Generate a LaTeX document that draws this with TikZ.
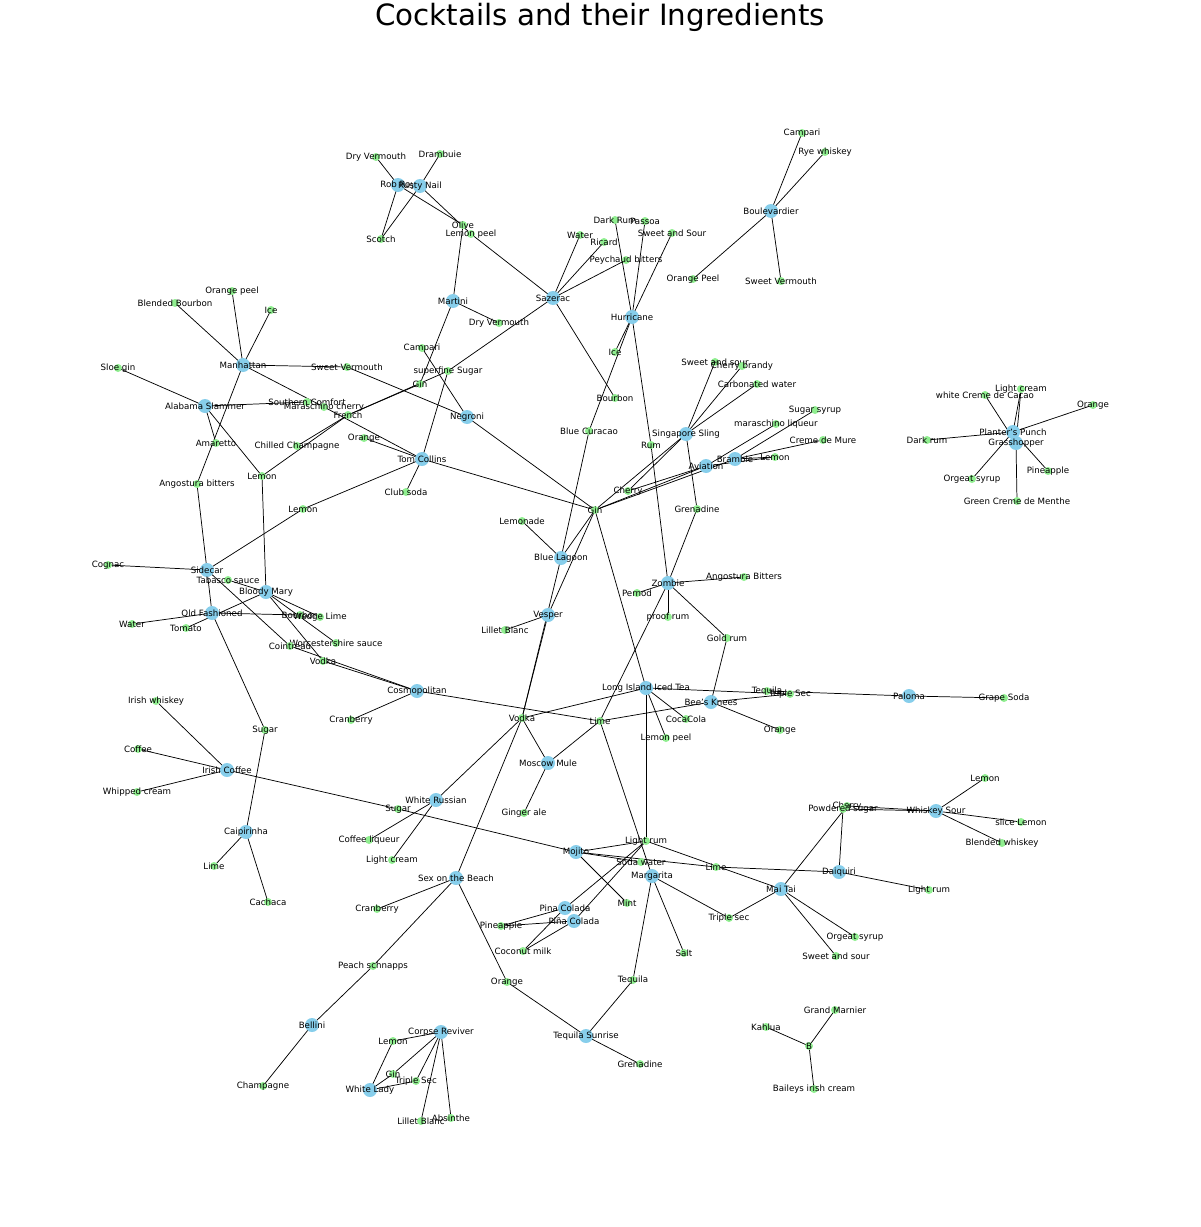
\documentclass[tikz,border=0pt]{standalone}
\usepackage{fontspec}
\setmainfont{DejaVu Sans}
\usetikzlibrary{backgrounds}
\definecolor{ckc}{HTML}{87CEEB}
\definecolor{igc}{HTML}{90EE90}
\tikzset{
 cockn/.style={circle,fill=ckc,minimum size=10.5pt,inner sep=0pt},
 ingrn/.style={circle,fill=igc,minimum size=6pt,inner sep=0pt},
 lbl/.style={font=\fontsize{6.5}{7}\selectfont,inner sep=0pt,text=black},
 edge/.style={draw=black,line width=0.55pt}
}
\newcommand{\cock}[4]{\node[cockn,label={[lbl]center:#4}] (#1) at (#2,#3) {};}
\newcommand{\ingr}[4]{\node[ingrn,label={[lbl]center:#4}] (#1) at (#2,#3) {};}
\begin{document}
\begin{tikzpicture}[x=0.75pt,y=-0.75pt]
\useasboundingbox (0,0) rectangle (1200,1227);
\node[font=\fontsize{22}{26}\selectfont] (title) at (600,17) {Cocktails and their Ingredients};
% cocktails
\cock{robroy}{398}{185}{Rob Roy}
\cock{rusty}{420}{186}{Rusty Nail}
\cock{martini}{453}{301}{Martini}
\cock{sazerac}{553}{298}{Sazerac}
\cock{hurricane}{632}{317}{Hurricane}
\cock{boulev}{771}{211}{Boulevardier}
\cock{manhattan}{243}{365}{Manhattan}
\cock{alabama}{205}{406}{Alabama Slammer}
\cock{negroni}{467}{417}{Negroni}
\cock{tomc}{422}{459}{Tom Collins}
\ingr{french}{348}{415}{French}
\cock{sing}{686}{434}{Singapore Sling}
\cock{aviation}{706}{466}{Aviation}
\cock{bramble}{735}{459}{Bramble}
\cock{planters}{1013}{432}{Planter's Punch}
\cock{grass}{1016}{443}{Grasshopper}
\cock{bluel}{561}{558}{Blue Lagoon}
\cock{zombie}{668}{583}{Zombie}
\cock{vesper}{548}{615}{Vesper}
\cock{sidecar}{207}{570}{Sidecar}
\cock{bloody}{266}{592}{Bloody Mary}
\cock{oldf}{212}{613}{Old Fashioned}
\cock{cosmo}{417}{691}{Cosmopolitan}
\cock{longi}{646}{688}{Long Island Iced Tea}
\cock{bees}{711}{702}{Bee's Knees}
\cock{paloma}{909}{696}{Paloma}
\cock{moscow}{548}{763}{Moscow Mule}
\cock{irish}{227}{770}{Irish Coffee}
\cock{whiter}{436}{800}{White Russian}
\cock{caip}{246}{832}{Caipirinha}
\cock{mojito}{576}{852}{Mojito}
\cock{marg}{652}{876}{Margarita}
\cock{maitai}{781}{889}{Mai Tai}
\cock{daiq}{839}{872}{Daiquiri}
\cock{whiskeys}{936}{811}{Whiskey Sour}
\cock{sexb}{456}{878}{Sex on the Beach}
\cock{pina}{565}{908}{Pina Colada}
\cock{pinb}{574}{921}{Piña Colada}
\cock{bellini}{312}{1025}{Bellini}
\cock{corpse}{441}{1032}{Corpse Reviver}
\cock{whitel}{370}{1090}{White Lady}
\cock{tsun}{586}{1036}{Tequila Sunrise}
% ingredients
\ingr{dryv1}{376}{157}{Dry Vermouth}
\ingr{drambuie}{440}{154}{Drambuie}
\ingr{scotch}{381}{239}{Scotch}
\ingr{olive}{463}{225}{Olive}
\ingr{lpeel1}{471}{234}{Lemon peel}
\ingr{dryv2}{499}{323}{Dry Vermouth}
\ingr{campari1}{422}{348}{Campari}
\ingr{gin1}{420}{384}{Gin}
\ingr{sugar1}{448}{371}{superfine  Sugar}
\ingr{opeel1}{232}{291}{Orange peel}
\ingr{bbourbon}{175}{303}{Blended  Bourbon}
\ingr{ice1}{271}{310}{Ice}
\ingr{sverm1}{347}{367}{Sweet Vermouth}
\ingr{sloegin}{118}{368}{Sloe gin}
\ingr{scomfort}{307}{402}{Southern Comfort}
\ingr{mcherry}{324}{407}{Maraschino cherry}
\ingr{orange1}{364}{438}{Orange}
\ingr{champ1}{297}{446}{Chilled  Champagne}
\ingr{amaretto}{216}{443}{Amaretto}
\ingr{lemon1}{262}{476}{Lemon}
\ingr{abitters}{197}{484}{Angostura bitters}
\ingr{clubsoda}{406}{492}{Club soda}
\ingr{lemon2}{303}{509}{Lemon}
\ingr{water1}{580}{235}{Water}
\ingr{ricard}{604}{242}{Ricard}
\ingr{peych}{626}{260}{Peychaud bitters}
\ingr{bourbon1}{615}{398}{Bourbon}
\ingr{darkrum}{615}{220}{Dark Rum}
\ingr{passoa}{645}{221}{Passoa}
\ingr{sands1}{672}{233}{Sweet and Sour}
\ingr{ice2}{615}{352}{Ice}
\ingr{bcuracao}{589}{431}{Blue Curacao}
\ingr{rum}{651}{445}{Rum}
\ingr{campari2}{802}{133}{Campari}
\ingr{rye}{825}{152}{Rye whiskey}
\ingr{opeel2}{693}{279}{Orange Peel}
\ingr{sverm2}{781}{281}{Sweet Vermouth}
\ingr{sands2}{715}{362}{Sweet and sour}
\ingr{cbrandy}{742}{366}{Cherry brandy}
\ingr{carbw}{757}{384}{Carbonated water}
\ingr{ssyrup}{815}{410}{Sugar syrup}
\ingr{mliq}{776}{424}{maraschino liqueur}
\ingr{cmure}{823}{440}{Creme de Mure}
\ingr{lemon5}{775}{457}{Lemon}
\ingr{cherry1}{628}{491}{Cherry}
\ingr{gin2}{595}{510}{Gin}
\ingr{grenad2}{697}{509}{Grenadine}
\ingr{lemonade}{522}{521}{Lemonade}
\ingr{cacao}{985}{395}{white  Creme de Cacao}
\ingr{lcream2}{1021}{389}{Light cream}
\ingr{orange4}{1093}{405}{Orange}
\ingr{darkrum2}{927}{440}{Dark rum}
\ingr{orgeat1}{972}{479}{Orgeat syrup}
\ingr{pineap2}{1048}{471}{Pineapple}
\ingr{menthe}{1017}{501}{Green Creme de Menthe}
\ingr{abitt2}{744}{577}{Angostura Bitters}
\ingr{pernod}{637}{593}{Pernod}
\ingr{proof}{668}{617}{proof rum}
\ingr{goldrum}{727}{638}{Gold rum}
\ingr{lillet1}{505}{630}{Lillet Blanc}
\ingr{cognac}{108}{565}{Cognac}
\ingr{tabasco}{228}{580}{Tabasco sauce}
\ingr{water2}{132}{624}{Water}
\ingr{tomato}{186}{628}{Tomato}
\ingr{bourbon2}{300}{615}{Bourbon}
\ingr{wedge}{320}{617}{Wedge  Lime}
\ingr{worc}{336}{643}{Worcestershire sauce}
\ingr{cointreau}{290}{646}{Cointreau}
\ingr{vodka1}{323}{661}{Vodka}
\ingr{cranb1}{351}{720}{Cranberry}
\ingr{tequila2}{767}{691}{Tequila}
\ingr{tsec3}{790}{694}{Triple Sec}
\ingr{grape}{1004}{698}{Grape Soda}
\ingr{vodka2}{522}{718}{Vodka}
\ingr{lime2}{600}{721}{Lime}
\ingr{cocacola}{686}{719}{CocaCola}
\ingr{orange3}{780}{730}{Orange}
\ingr{lpeel2}{666}{738}{Lemon peel}
\ingr{gingerale}{524}{813}{Ginger ale}
\ingr{iwhiskey}{156}{701}{Irish whiskey}
\ingr{coffee}{138}{749}{Coffee}
\ingr{whipped}{137}{792}{Whipped cream}
\ingr{sugar2}{265}{730}{Sugar}
\ingr{sugar3}{398}{809}{Sugar}
\ingr{coffliq}{369}{840}{Coffee liqueur}
\ingr{lcream1}{392}{860}{Light cream}
\ingr{lime3}{214}{866}{Lime}
\ingr{cachaca}{268}{902}{Cachaca}
\ingr{lemon4}{985}{778}{Lemon}
\ingr{cherry2}{847}{806}{Cherry}
\ingr{psugar}{843}{809}{Powdered sugar}
\ingr{slemon}{1021}{822}{slice  Lemon}
\ingr{bwhiskey}{1002}{843}{Blended whiskey}
\ingr{lrum1}{646}{841}{Light rum}
\ingr{soda}{641}{862}{Soda water}
\ingr{lime4}{716}{867}{Lime}
\ingr{lrum2}{929}{890}{Light rum}
\ingr{mint}{627}{903}{Mint}
\ingr{tsec2}{729}{918}{Triple sec}
\ingr{orgeat2}{855}{937}{Orgeat syrup}
\ingr{salt}{684}{953}{Salt}
\ingr{sands3}{836}{956}{Sweet and sour}
\ingr{cranb2}{377}{909}{Cranberry}
\ingr{pineap1}{501}{926}{Pineapple}
\ingr{coconut}{523}{951}{Coconut milk}
\ingr{peach}{373}{966}{Peach schnapps}
\ingr{orange2}{507}{982}{Orange}
\ingr{tequila1}{633}{980}{Tequila}
\ingr{lemon3}{393}{1041}{Lemon}
\ingr{grenad1}{640}{1064}{Grenadine}
\ingr{gin3}{393}{1074}{Gin}
\ingr{tsec1}{416}{1081}{Triple Sec}
\ingr{champ2}{263}{1086}{Champagne}
\ingr{lillet2}{421}{1121}{Lillet Blanc}
\ingr{absinthe}{451}{1118}{Absinthe}
\ingr{grandm}{835}{1010}{Grand Marnier}
\ingr{kahlua}{766}{1027}{Kahlua}
\ingr{bnode}{809}{1046}{B}
\ingr{baileys}{814}{1089}{Baileys irish cream}
\begin{scope}[on background layer]
\foreach \a/\b in {robroy/dryv1,robroy/scotch,robroy/olive,rusty/drambuie,rusty/scotch,rusty/lpeel1,
 martini/olive,martini/dryv2,martini/gin1,sazerac/lpeel1,sazerac/water1,sazerac/ricard,sazerac/peych,sazerac/bourbon1,sazerac/sugar1,
 hurricane/darkrum,hurricane/passoa,hurricane/sands1,hurricane/ice2,hurricane/bcuracao,hurricane/rum,
 boulev/campari2,boulev/rye,boulev/opeel2,boulev/sverm2,
 manhattan/opeel1,manhattan/bbourbon,manhattan/ice1,manhattan/sverm1,manhattan/abitters,manhattan/mcherry,
 alabama/sloegin,alabama/scomfort,alabama/amaretto,alabama/lemon1,
 negroni/campari1,negroni/sverm1,negroni/gin2,
 french/gin1,french/sugar1,french/champ1,french/lemon1,
 tomc/orange1,tomc/mcherry,tomc/clubsoda,tomc/lemon2,tomc/gin2,tomc/sugar1,
 sing/gin2,sing/cherry1,sing/sands2,sing/cbrandy,sing/carbw,sing/grenad2,
 aviation/gin2,aviation/mliq,aviation/lemon5,aviation/cherry1,
 bramble/gin2,bramble/ssyrup,bramble/cmure,bramble/lemon5,
 planters/darkrum2,planters/orange4,planters/orgeat1,planters/pineap2,planters/lcream2,
 grass/cacao,grass/lcream2,grass/menthe,
 bluel/lemonade,bluel/gin2,bluel/bcuracao,bluel/vodka2,
 zombie/rum,zombie/abitt2,zombie/pernod,zombie/proof,zombie/grenad2,zombie/goldrum,zombie/lime2,
 vesper/gin2,vesper/vodka2,vesper/lillet1,
 sidecar/cognac,sidecar/lemon2,sidecar/cointreau,
 oldf/abitters,oldf/water2,oldf/sugar2,oldf/bourbon2,
 bloody/lemon1,bloody/tomato,bloody/wedge,bloody/worc,bloody/vodka1,bloody/tabasco,
 cosmo/vodka1,cosmo/cointreau,cosmo/cranb1,cosmo/lime2,
 longi/vodka2,longi/lrum1,longi/gin2,longi/tsec3,longi/cocacola,longi/lpeel2,
 bees/lime2,bees/tsec3,bees/goldrum,bees/orange3,
 paloma/tequila2,paloma/grape,
 moscow/vodka2,moscow/lime2,moscow/gingerale,
 irish/iwhiskey,irish/coffee,irish/whipped,irish/sugar3,
 caip/sugar2,caip/lime3,caip/cachaca,
 whiter/vodka2,whiter/coffliq,whiter/lcream1,
 sexb/vodka2,sexb/cranb2,sexb/peach,sexb/orange2,
 bellini/peach,bellini/champ2,
 mojito/lrum1,mojito/mint,mojito/soda,mojito/lime4,mojito/sugar3,
 marg/lime2,marg/tequila1,marg/salt,marg/tsec2,
 daiq/lime4,daiq/lrum2,daiq/psugar,
 maitai/lrum1,maitai/tsec2,maitai/cherry2,maitai/orgeat2,maitai/sands3,
 whiskeys/cherry2,whiskeys/psugar,whiskeys/lemon4,whiskeys/slemon,whiskeys/bwhiskey,
 pina/lrum1,pina/pineap1,pina/coconut,pinb/lrum1,pinb/pineap1,pinb/coconut,
 corpse/lemon3,corpse/gin3,corpse/tsec1,corpse/lillet2,corpse/absinthe,
 whitel/lemon3,whitel/gin3,whitel/tsec1,
 tsun/orange2,tsun/tequila1,tsun/grenad1,
 bnode/kahlua,bnode/grandm,bnode/baileys}
 \draw[edge] (\a.center) -- (\b.center);
\end{scope}
\end{tikzpicture}
\end{document}
